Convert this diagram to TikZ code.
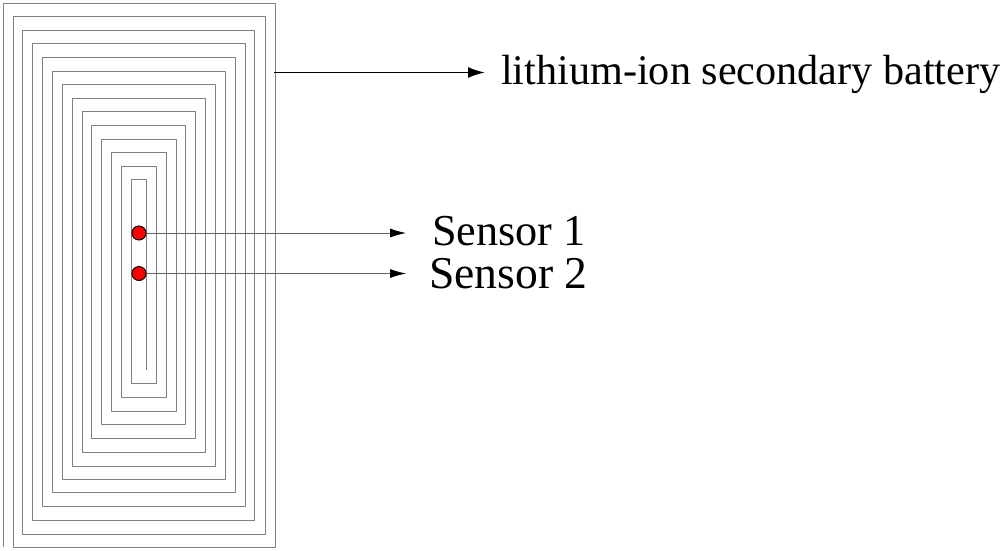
\documentclass[tikz,border=0pt]{standalone}
\usepackage{fontspec}
\setmainfont{Liberation Serif}
\usetikzlibrary{arrows.meta}
\tikzset{
  coil/.style={draw=black!50,line width=0.95pt,line join=round},
  sensordot/.style={circle,draw=black,fill=red,line width=1pt,minimum size=14pt,inner sep=0pt},
  leader/.style={draw=black!60,line width=0.8pt,-{Latex[length=16pt,width=9pt,black]}},
  mainarrow/.style={draw=black,line width=1.9pt,-{Latex[length=17pt,width=11pt]}},
  lab/.style={inner sep=0pt},
  bigtext/.style={lab,font=\fontsize{42.2}{42}\selectfont},
  sensorone/.style={lab,font=\fontsize{44.2}{45}\selectfont},
  sensortwo/.style={lab,font=\fontsize{45.6}{45}\selectfont}
}
\begin{document}
\begin{tikzpicture}[x=1pt,y=-1pt]
\useasboundingbox (0,0) rectangle (1000,550);
\draw[coil] (3.3,546.7)
 |- (275,3.3) |- (13.3,547.7)
 |- (265.3,16.7) |- (22.7,534.3)
 |- (254.7,30.3) |- (32.7,520.7)
 |- (245,43.7) |- (42.7,506)
 |- (235.3,57.7) |- (52.3,492)
 |- (225.3,71) |- (62.7,479.3)
 |- (215.3,84.7) |- (72.3,466)
 |- (205.7,98.3) |- (82.3,452)
 |- (195.7,111.7) |- (91.7,438.3)
 |- (185.7,125.3) |- (101.7,424.7)
 |- (176,139.3) |- (111.7,411)
 |- (166,152.7) |- (121.7,397.3)
 |- (156,166) |- (131.7,383.7)
 |- (146.3,179.7) -- (146.3,370);
\coordinate (batStart) at (274,72.5);
\node[bigtext,anchor=base west] (bat) at (501,84.5) {lithium-ion secondary battery};
\coordinate (batEnd) at (485,72.5);
\draw[mainarrow] (batStart) -- (batEnd);
\node[sensordot] (s1) at (139,233) {};
\node[sensordot] (s2) at (139,273.5) {};
\node[sensorone,anchor=base] (l1) at (509,245.5) {Sensor 1};
\node[sensortwo,anchor=base] (l2) at (508.5,288.5) {Sensor 2};
\coordinate (e1) at (406,233);
\coordinate (e2) at (406,273.5);
\draw[leader] (s1) -- (e1);
\draw[leader] (s2) -- (e2);
\end{tikzpicture}
\end{document}
